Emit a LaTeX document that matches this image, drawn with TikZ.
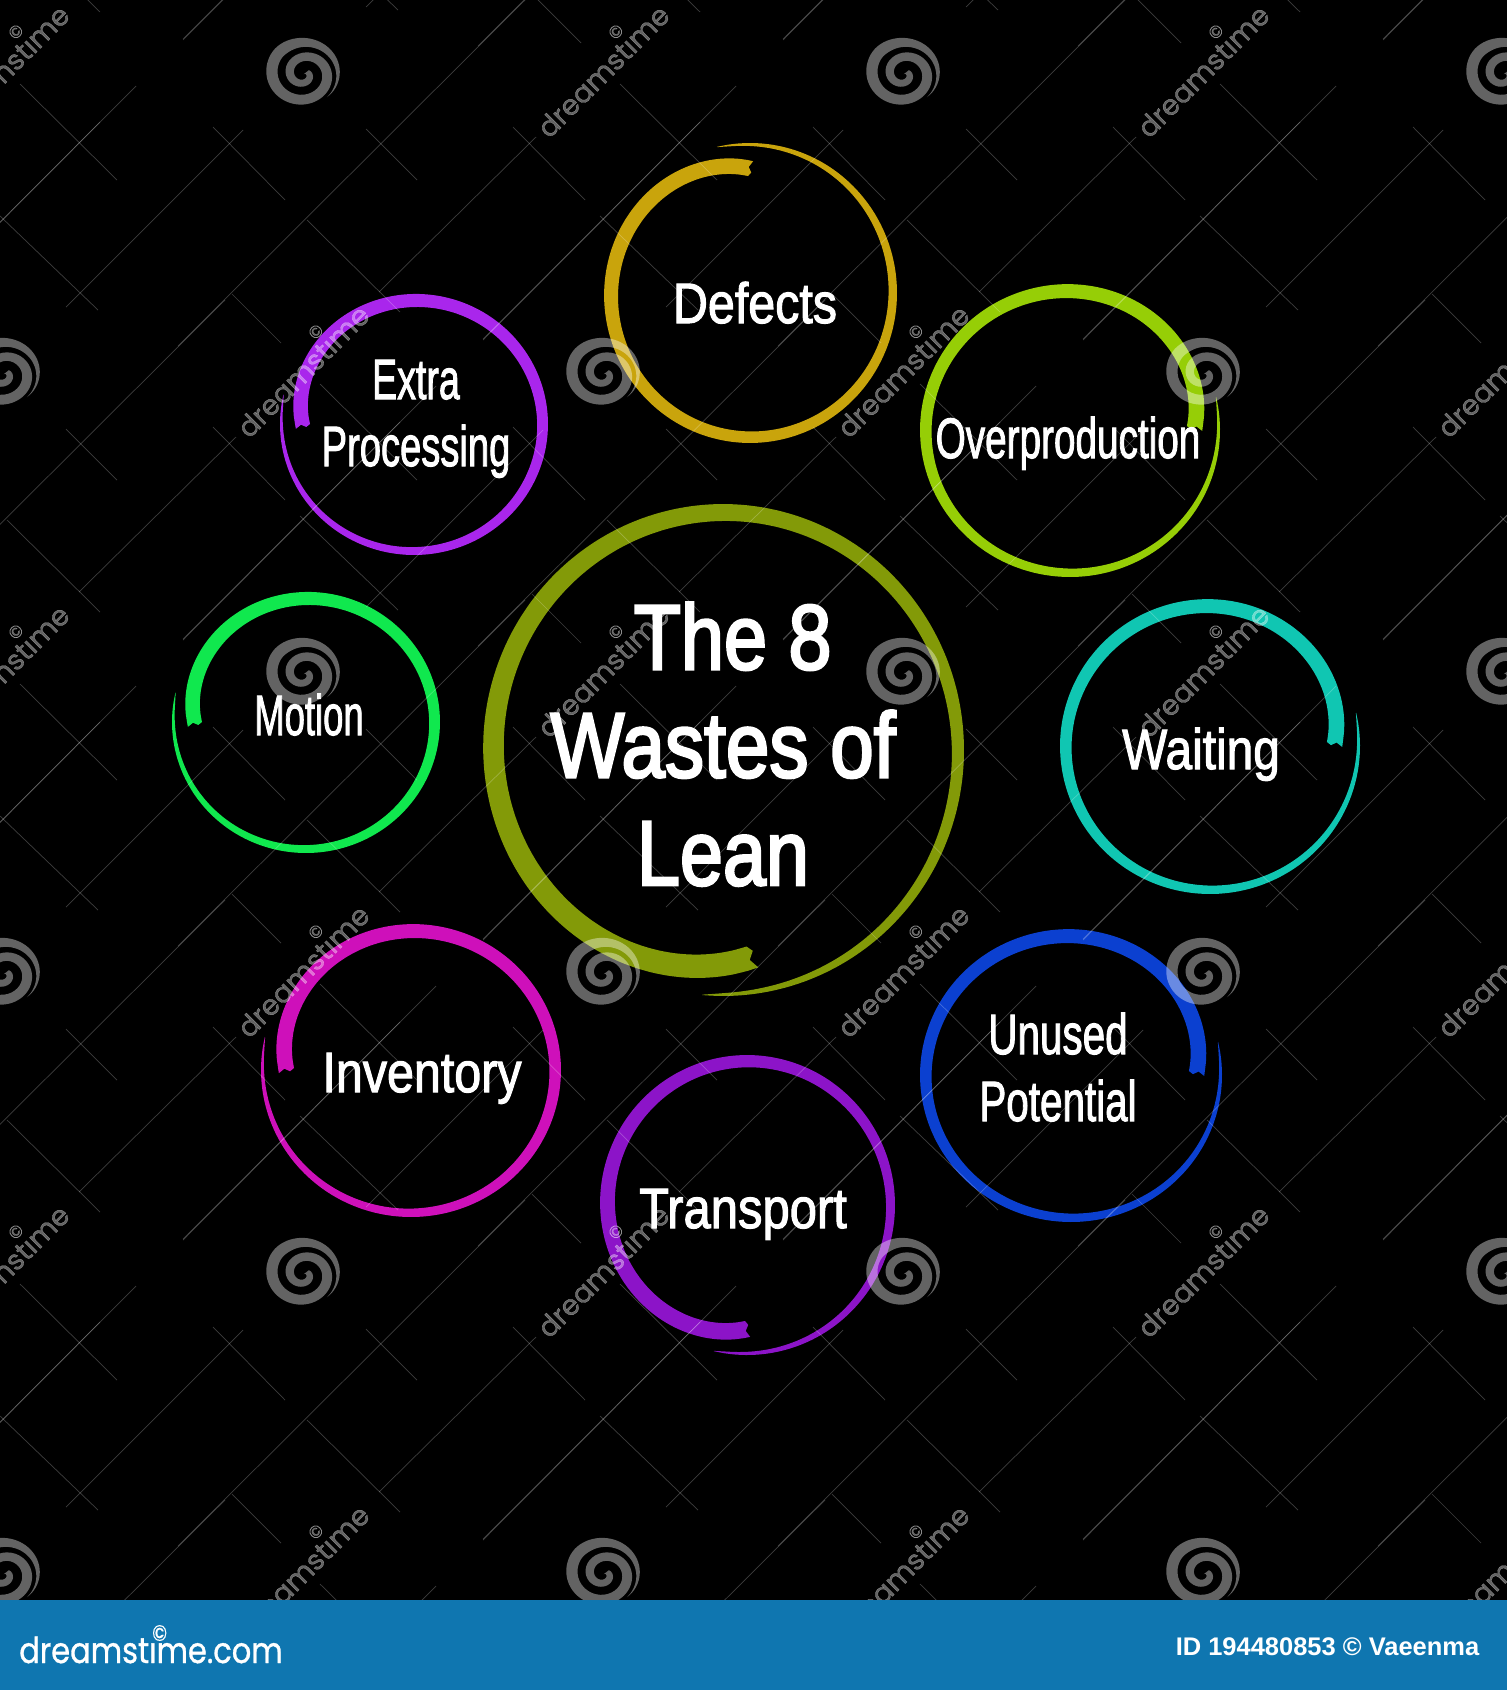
\documentclass[tikz,border=0pt]{standalone}
\usepackage{xcolor}
\usepackage{fontspec}
\setmainfont{Liberation Sans}
\newfontfamily\wastefont[FakeBold=2]{Liberation Sans}
\newfontfamily\leanfont[FakeBold=3]{Liberation Sans}
\newfontfamily\markfont[FakeBold=1]{Poppins}
\usetikzlibrary{positioning, calc}
\definecolor{leancolor}{HTML}{839A08}
\definecolor{defectcolor}{HTML}{C9A40C}
\definecolor{overcolor}{HTML}{96CE06}
\definecolor{waitcolor}{HTML}{10C6B2}
\definecolor{unusedcolor}{HTML}{0B40D0}
\definecolor{transcolor}{HTML}{8C14C8}
\definecolor{invcolor}{HTML}{CE10BA}
\definecolor{motioncolor}{HTML}{10E84E}
\definecolor{extracolor}{HTML}{A926EC}
\definecolor{bannercolor}{HTML}{0F76B0}
\newcommand{\narrowed}[2]{\scalebox{#1}[1]{#2}}
\newcommand{\dotmark}[2]{\makebox[0pt][l]{\raisebox{#2}{\kern#1\scalebox{.62}{\textcopyright}}}\char"0131 }
% cx cy rx ry start end width inset colour
\newcommand{\brushring}[9]{
	\pgfmathsetmacro{\dirs}{(#6>#5)?1:-1}
	\pgfmathsetmacro{\endr}{1-(#8)/(#3)}
	\pgfmathsetmacro{\endw}{(#7)/(#3)}
	\fill[#9] plot[domain=0:1, samples=90, smooth, variable=\u]
		({#1+(#3-#8*\u^10)*cos(#5+(#6-#5)*\u)}, {#2-(#4-#8*\u^10)*sin(#5+(#6-#5)*\u)})
		-- ({#1+#3*(\endr-.05*\endw)*cos(#6+2.4*\dirs)}, {#2-#4*(\endr-.05*\endw)*sin(#6+2.4*\dirs)})
		-- ({#1+#3*(\endr-.4*\endw)*cos(#6+.4*\dirs)}, {#2-#4*(\endr-.4*\endw)*sin(#6+.4*\dirs)})
		-- ({#1+#3*(\endr-.75*\endw)*cos(#6+1.6*\dirs)}, {#2-#4*(\endr-.75*\endw)*sin(#6+1.6*\dirs)})
		-- plot[domain=1:0, samples=90, smooth, variable=\u]
		({#1+(#3-#8*\u^10-#7*sqrt(\u))*cos(#5+(#6-#5)*\u)}, {#2-(#4-#8*\u^10-#7*sqrt(\u))*sin(#5+(#6-#5)*\u)})
		-- cycle;
}
\newcommand{\spiralmark}[2]{
	\fill[white, opacity=.39] plot[domain=-47:760, samples=80, smooth, variable=\t]
		({#1+(min(34,41-.05*\t)+.5*min(13,(\t+47)/13)*(1-.0006*(\t+47)))*cos(\t)},
		 {#2-.93*(min(34,41-.05*\t)+.5*min(13,(\t+47)/13)*(1-.0006*(\t+47)))*sin(\t)})
		-- plot[domain=760:-47, samples=80, smooth, variable=\t]
		({#1+(min(34,41-.05*\t)-.5*min(13,(\t+47)/13)*(1-.0006*(\t+47)))*cos(\t)},
		 {#2-.93*(min(34,41-.05*\t)-.5*min(13,(\t+47)/13)*(1-.0006*(\t+47)))*sin(\t)})
		-- cycle;
}

\begin{document}
\begin{tikzpicture}[x=0.1mm, y=-0.1mm]
	\tikzstyle{wastec}=[anchor=base, inner sep=0pt, text=white, align=center, font=\wastefont\fontsize{16.2}{19.06}\selectfont]
	\tikzstyle{leanc}=[anchor=base, inner sep=0pt, text=white, align=center, font=\leanfont\fontsize{26.2}{30.7}\selectfont]
	\tikzstyle{idc}=[anchor=base east, inner sep=0pt, text=white, font=\bfseries\fontsize{7.25}{9}\selectfont]
	\tikzstyle{wmarkc}=[rotate=45, inner sep=0pt, text=white, opacity=.39, font=\markfont\fontsize{8}{10}\selectfont]
	\useasboundingbox (0,0) rectangle (1507,1690);
	\fill[black] (0,0) rectangle (1507,1690);
	
	\brushring{723}{750}{241}{246}{-95}{277}{24}{24}{leancolor}
	\brushring{750}{293}{147}{150}{103}{-269}{16}{17}{defectcolor}
	\brushring{1070}{430}{150}{147}{13}{-358}{16}{17}{overcolor}
	\brushring{1210}{746}{150}{148}{13}{-358}{16}{17}{waitcolor}
	\brushring{1071}{1075}{151}{147}{13}{-358}{16}{17}{unusedcolor}
	\brushring{747}{1205}{148}{150}{-103}{269}{17}{17}{transcolor}
	\brushring{411}{1070}{150}{147}{167}{539}{16}{17}{invcolor}
	\brushring{306}{722}{134}{131}{167}{540}{15}{15}{motioncolor}
	\brushring{414}{424}{134}{131}{167}{540}{15}{15}{extracolor}
	
	\begin{scope}
		\clip (0,0) rectangle (1507,1600);
		\foreach \j in {-1,...,5}{
			\foreach \i in {-1,...,2}{
				\pgfmathsetmacro{\sx}{600*\i+300*mod(\j+2,2)}
				\pgfmathsetmacro{\sy}{300*\j}
				\foreach \ax/\ay/\bx/\by in {20/84/117/180, 213/127/285/200, 513/127/585/200, 366/129/417/180, 0/216/98/310, 307/220/400/312, 232/294/281/343, 400/-178/183/39, 136/86/-117/340, 525/0/178/346, 243/130/66/307, 536/137/379/292}
					\draw[white, opacity=.24, line width=.2pt] ({\ax+\sx},{\ay+\sy}) -- ({\bx+\sx},{\by+\sy});
			}
		}
		\foreach \k in {0,...,5}{
			\foreach \i in {0,1,2}{
				\pgfmathsetmacro{\mx}{304+600*\i-300*mod(\k,2)}
				\pgfmathsetmacro{\my}{74+300*\k}
				\spiralmark{\mx}{\my}
				\pgfmathsetmacro{\tx}{-2+600*\i+300*mod(\k,2)}
				\pgfmathsetmacro{\ty}{66+300*\k}
				\node (wm\k\i) at (\tx,\ty) [wmarkc]{dreamst\dotmark{-.12em}{.82em}me};
			}
		}
	\end{scope}
	
	\node (lean) at (723,885) [leanc]{\hspace*{5.5pt}\narrowed{.84}{The 8}\\\narrowed{.85}{Wastes of}\\\narrowed{.84}{Lean}};
	\node (defects) at (755,323) [wastec]{\narrowed{.85}{Defects}};
	\node (over) at (1068,458) [wastec]{\narrowed{.68}{Overproduction}};
	\node (waiting) at (1201,769) [wastec]{\narrowed{.84}{Waiting}};
	\node (unused) at (1058,1121) [wastec]{\narrowed{.71}{Unused}\\\narrowed{.71}{Potential}};
	\node (transport) at (743,1228) [wastec]{\narrowed{.86}{Transport}};
	\node (inventory) at (422,1092) [wastec]{\narrowed{.85}{Inventory}};
	\node (motion) at (309,735) [wastec]{\narrowed{.64}{Motion}};
	\node (extra) at (416,466) [wastec]{\narrowed{.66}{Extra}\\\narrowed{.67}{Processing}};
	
	\fill[bannercolor] (0,1600) rectangle (1507,1690);
	\node (logo) at (151,1663) [anchor=base, inner sep=0pt, text=white, font=\markfont\fontsize{10.2}{12}\selectfont]{\narrowed{.85}{dreamst\dotmark{.1em}{.62em}me.com}};
	\node (photoid) at (1480,1655) [idc]{ID 194480853 \textcopyright{} Vaeenma};
\end{tikzpicture}
\end{document}
